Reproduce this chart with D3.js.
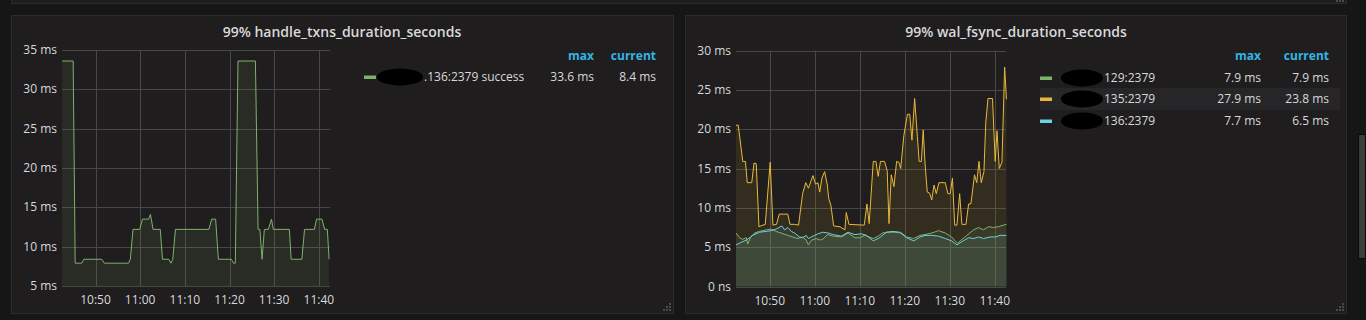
<!DOCTYPE html>
<html>
<head>
<meta charset="utf-8">
<script src="https://cdn.jsdelivr.net/npm/d3@7/dist/d3.min.js"></script>
<style>
  html, body { margin: 0; padding: 0; background: #161616; }
  svg { display: block; }
  text { font-family: "Open Sans", "Noto Sans", sans-serif; }
</style>
</head>
<body>
<svg id="chart" width="1366" height="320"></svg>
<script>
// ---------- DATA (time = minutes after 10:00) ----------
const handleTimes  = [42.5,45.0,45.45,46.9,47.4,51.4,52.0,57.4,57.8,58.4,59.9,60.5,61.9,62.3,62.9,64.5,65.0,66.4,66.9,67.3,67.9,75.4,76.0,76.9,77.5,80.4,80.9,81.3,81.9,85.8,86.4,86.8,87.3,87.8,88.7,89.4,89.8,93.4,93.8,96.2,96.8,99.0,99.5,100.7,101.3,101.9,102.3];
const handleValues = [33.6,33.6,7.9,7.9,8.4,8.4,7.9,7.9,8.4,12.2,12.2,13.5,13.5,14.1,12.2,12.2,8.4,8.4,7.9,8.4,12.2,12.2,13.5,13.5,8.4,8.4,7.9,7.9,33.6,33.6,12.2,12.2,8.4,12.2,12.2,13.5,12.2,12.2,8.4,8.4,12.2,12.2,13.5,13.5,12.2,12.2,8.4];

const wal129Times  = [42.5,43.3,44.0,44.8,45.1,45.7,46.6,47.7,49.2,50.3,51.4,52.5,54.0,55.1,56.2,57.3,58.1,58.6,59.3,60.3,61.3,62.0,62.8,64.1,65.9,67.4,68.9,70.0,71.1,73.0,74.1,75.0,76.3,77.8,79.3,80.4,81.9,83.4,84.5,86.0,87.5,89.0,90.4,91.7,92.3,93.8,95.3,96.4,97.5,98.6,99.7,100.8,101.9,102.6];
const wal129Values = [6.8,6.2,6.0,6.2,5.4,6.2,6.8,7.0,7.2,7.3,7.0,6.8,6.5,6.3,6.1,6.3,5.9,5.3,5.9,6.1,5.9,6.1,6.6,6.4,6.3,6.8,6.2,6.2,6.5,6.1,6.4,6.8,6.9,6.9,6.8,6.3,6.1,6.5,6.6,6.8,7.1,6.8,6.3,5.5,5.8,6.5,7.2,7.5,7.2,7.6,7.5,7.6,7.8,7.9];

const wal135Times  = [42.5,43.0,44.0,44.6,45.0,46.0,46.5,47.0,47.6,48.0,49.0,50.1,50.7,51.5,52.1,54.0,54.5,55.5,56.4,57.3,58.0,58.6,59.6,60.2,60.7,61.1,61.6,62.2,62.8,63.1,63.6,64.2,65.6,66.7,67.0,67.6,71.0,71.6,72.1,73.0,73.6,74.1,74.6,75.5,76.1,76.5,77.0,77.6,78.2,78.7,79.1,79.8,80.6,81.1,81.6,82.2,82.8,83.2,83.7,84.1,84.5,85.0,85.5,86.0,86.5,87.0,87.6,89.0,89.6,90.1,90.6,91.1,91.6,92.2,92.7,93.6,94.2,94.7,95.5,96.0,96.5,97.0,97.6,98.0,98.5,99.5,100.1,100.5,101.0,101.6,102.2,102.6];
const wal135Values = [20.5,20.5,15.9,15.9,13.2,13.2,15.7,15.6,7.6,7.7,7.9,15.8,7.8,7.9,9.2,9.2,7.9,7.9,7.8,11.8,13.2,12.5,14.1,13.0,13.2,12.0,13.8,14.6,12.9,11.2,10.3,7.7,7.6,7.2,9.4,7.9,7.8,10.5,8.0,15.9,15.9,14.0,15.9,15.9,14.7,8.0,14.2,12.7,15.9,15.8,15.0,19.2,21.9,21.9,18.6,23.9,19.1,15.9,15.9,19.9,15.7,12.0,11.9,11.0,12.9,11.8,13.2,13.2,11.8,11.8,13.8,7.8,7.8,11.8,7.9,7.9,10.5,10.5,14.2,13.2,15.9,13.2,14.6,20.8,23.9,23.9,15.9,19.8,15.0,15.8,27.9,23.8];

const wal136Times  = [42.5,43.6,44.8,46.2,47.7,49.2,50.3,51.4,52.7,53.3,54.0,54.8,55.5,56.6,57.3,58.1,58.6,59.6,60.7,61.8,63.0,64.1,65.9,67.4,68.9,70.4,71.5,73.0,74.4,75.9,77.4,78.9,80.4,82.0,83.4,84.5,86.0,87.5,89.0,90.4,91.6,92.7,94.2,95.3,96.4,97.5,99.0,100.1,101.2,102.6];
const wal136Values = [5.3,5.6,5.9,6.5,6.9,7.0,7.1,7.3,7.7,7.2,7.5,7.0,6.8,6.3,6.2,6.5,6.1,6.4,6.7,6.9,6.8,6.6,6.4,6.9,6.6,6.7,6.5,5.8,6.2,6.9,7.0,6.9,6.2,5.8,6.3,6.5,6.5,6.4,6.1,5.8,5.3,5.7,6.2,6.1,6.3,6.1,6.3,6.3,6.5,6.5];

const timeDomain = [42.5, 102.5];
const leftTicksY  = [5, 10, 15, 20, 25, 30, 35];
const rightTicksY = [0, 5, 10, 15, 20, 25, 30];

const leftTitle  = "99% handle_txns_duration_seconds";
const rightTitle = "99% wal_fsync_duration_seconds";
const legendHeaders = ["max", "current"];

const leftLegendNames = [".136:2379 success"];
const leftLegendMax   = ["33.6 ms"];
const leftLegendCur   = ["8.4 ms"];

const rightLegendNames = ["129:2379", "135:2379", "136:2379"];
const rightLegendMax   = ["7.9 ms", "27.9 ms", "7.7 ms"];
const rightLegendCur   = ["7.9 ms", "23.8 ms", "6.5 ms"];

const colGreen = "#7eb26d", colYellow = "#eab839", colCyan = "#6ed0e0";

// ---------- DRAW ----------
const svg = d3.select("#chart");
const base = new Date(2020, 0, 1, 10, 0, 0);
const toDate = m => new Date(base.getTime() + m * 60000);
const zip = (ts, vs) => ts.map((t, i) => ({ t: toDate(t), v: vs[i] }));

const panelFill = "#1f1d1e", panelStroke = "#2b2b2b";
const textCol = "#d8d9da", gridCol = "#474747";

// top strip (panel above)
svg.append("rect").attr("x", 11.5).attr("y", -10).attr("width", 1335).attr("height", 13.5)
  .attr("fill", panelFill).attr("stroke", panelStroke);
// panels
svg.append("rect").attr("x", 11.5).attr("y", 15.5).attr("width", 662).attr("height", 298)
  .attr("fill", panelFill).attr("stroke", panelStroke);
svg.append("rect").attr("x", 685.5).attr("y", 15.5).attr("width", 661).attr("height", 298)
  .attr("fill", panelFill).attr("stroke", panelStroke);

// resize handles
function handle(x, y) {
  const pts = [[0,0],[-3,0],[-6,0],[0,-3],[-3,-3],[0,-6]];
  svg.append("g").selectAll("rect").data(pts).join("rect")
    .attr("x", d => x + d[0]).attr("y", d => y + d[1])
    .attr("width", 2).attr("height", 2).attr("fill", "#4a4a4a");
}
handle(669, 309); handle(1342, 309); handle(1342, 0);

// scrollbar
svg.append("rect").attr("x", 1358.5).attr("y", 134.5).attr("width", 7).attr("height", 124)
  .attr("fill", "#3c3c3c").attr("stroke", "#0a0a0a");

function drawChart(opt) {
  const x = d3.scaleTime().domain(timeDomain.map(toDate)).range([opt.x0, opt.x1]);
  const y = d3.scaleLinear().domain(opt.yDomain).range([opt.y1, opt.y0]);
  const g = svg.append("g");

  // title
  g.append("text").attr("x", opt.titleX).attr("y", 37).attr("text-anchor", "middle")
    .attr("fill", textCol).attr("font-size", 14).attr("font-weight", 600).text(opt.title);

  // grid
  const xt = x.ticks(d3.timeMinute.every(10));
  g.append("g").selectAll("line").data(opt.yTicks).join("line")
    .attr("x1", opt.x0).attr("x2", opt.x1)
    .attr("y1", d => Math.round(y(d)) + 0.5).attr("y2", d => Math.round(y(d)) + 0.5)
    .attr("stroke", gridCol);
  g.append("g").selectAll("line").data(xt).join("line")
    .attr("x1", d => Math.round(x(d)) + 0.5).attr("x2", d => Math.round(x(d)) + 0.5)
    .attr("y1", opt.y0).attr("y2", opt.y1)
    .attr("stroke", gridCol);

  // axis labels
  g.append("g").selectAll("text").data(opt.yTicks).join("text")
    .attr("x", opt.x0 - 5).attr("y", d => y(d) + 4).attr("text-anchor", "end")
    .attr("fill", textCol).attr("font-size", 12)
    .text(d => d === 0 ? "0 ns" : d + " ms");
  const fmt = d3.timeFormat("%H:%M");
  g.append("g").selectAll("text").data(xt).join("text")
    .attr("x", d => x(d)).attr("y", opt.y1 + 18).attr("text-anchor", "middle")
    .attr("fill", textCol).attr("font-size", 12).text(fmt);

  // series
  const area = d3.area().x(d => x(d.t)).y0(opt.y1).y1(d => y(d.v));
  const line = d3.line().x(d => x(d.t)).y(d => y(d.v));
  opt.series.forEach(s => {
    g.append("path").datum(s.data).attr("d", area).attr("fill", s.color).attr("fill-opacity", 0.1);
  });
  opt.series.forEach(s => {
    g.append("path").datum(s.data).attr("d", line).attr("fill", "none")
      .attr("stroke", s.color).attr("stroke-width", 1);
  });
}

drawChart({
  x0: 62, x1: 330, y0: 50, y1: 286, yDomain: [5, 35], yTicks: leftTicksY,
  title: leftTitle, titleX: 342,
  series: [{ color: colGreen, data: zip(handleTimes, handleValues) }]
});
drawChart({
  x0: 736, x1: 1006, y0: 50.5, y1: 286.5, yDomain: [0, 30], yTicks: rightTicksY,
  title: rightTitle, titleX: 1016,
  series: [
    { color: colYellow, data: zip(wal135Times, wal135Values) },
    { color: colGreen,  data: zip(wal129Times, wal129Values) },
    { color: colCyan,   data: zip(wal136Times, wal136Values) }
  ]
});

// ---------- LEGENDS ----------
function blob(cx, cy, rx, ry) {
  svg.append("ellipse").attr("cx", cx).attr("cy", cy).attr("rx", rx).attr("ry", ry).attr("fill", "#000");
}
function legend(opt) {
  const g = svg.append("g");
  legendHeaders.forEach((h, i) => {
    g.append("text").attr("x", i === 0 ? opt.maxX : opt.curX).attr("y", 60)
      .attr("text-anchor", "end").attr("fill", "#33b5e5").attr("font-size", 12)
      .attr("font-weight", 700).text(h);
  });
  opt.names.forEach((n, i) => {
    const cy = opt.rowY[i];
    if (opt.highlight === i) {
      g.append("rect").attr("x", opt.swX).attr("y", cy - 11).attr("width", opt.hlW).attr("height", 22)
        .attr("fill", "#262527");
    }
    g.append("rect").attr("x", opt.swX).attr("y", cy - 1.5).attr("width", 12).attr("height", 3.5)
      .attr("fill", opt.colors[i]);
    blob(opt.blobCx, cy, opt.blobRx, 8.5);
    g.append("text").attr("x", opt.textX).attr("y", cy + 4).attr("fill", textCol)
      .attr("font-size", 12).text(n);
    g.append("text").attr("x", opt.maxX).attr("y", cy + 4).attr("text-anchor", "end")
      .attr("fill", textCol).attr("font-size", 12).text(opt.maxV[i]);
    g.append("text").attr("x", opt.curX).attr("y", cy + 4).attr("text-anchor", "end")
      .attr("fill", textCol).attr("font-size", 12).text(opt.curV[i]);
  });
}
legend({
  names: leftLegendNames, maxV: leftLegendMax, curV: leftLegendCur, colors: [colGreen],
  rowY: [77], swX: 364, textX: 424, blobCx: 400, blobRx: 23, maxX: 594, curX: 656
});
legend({
  names: rightLegendNames, maxV: rightLegendMax, curV: rightLegendCur,
  colors: [colGreen, colYellow, colCyan], rowY: [78, 99, 121], highlight: 1, hlW: 300,
  swX: 1040, textX: 1104, blobCx: 1082, blobRx: 21, maxX: 1261, curX: 1329
});
</script>
</body>
</html>
